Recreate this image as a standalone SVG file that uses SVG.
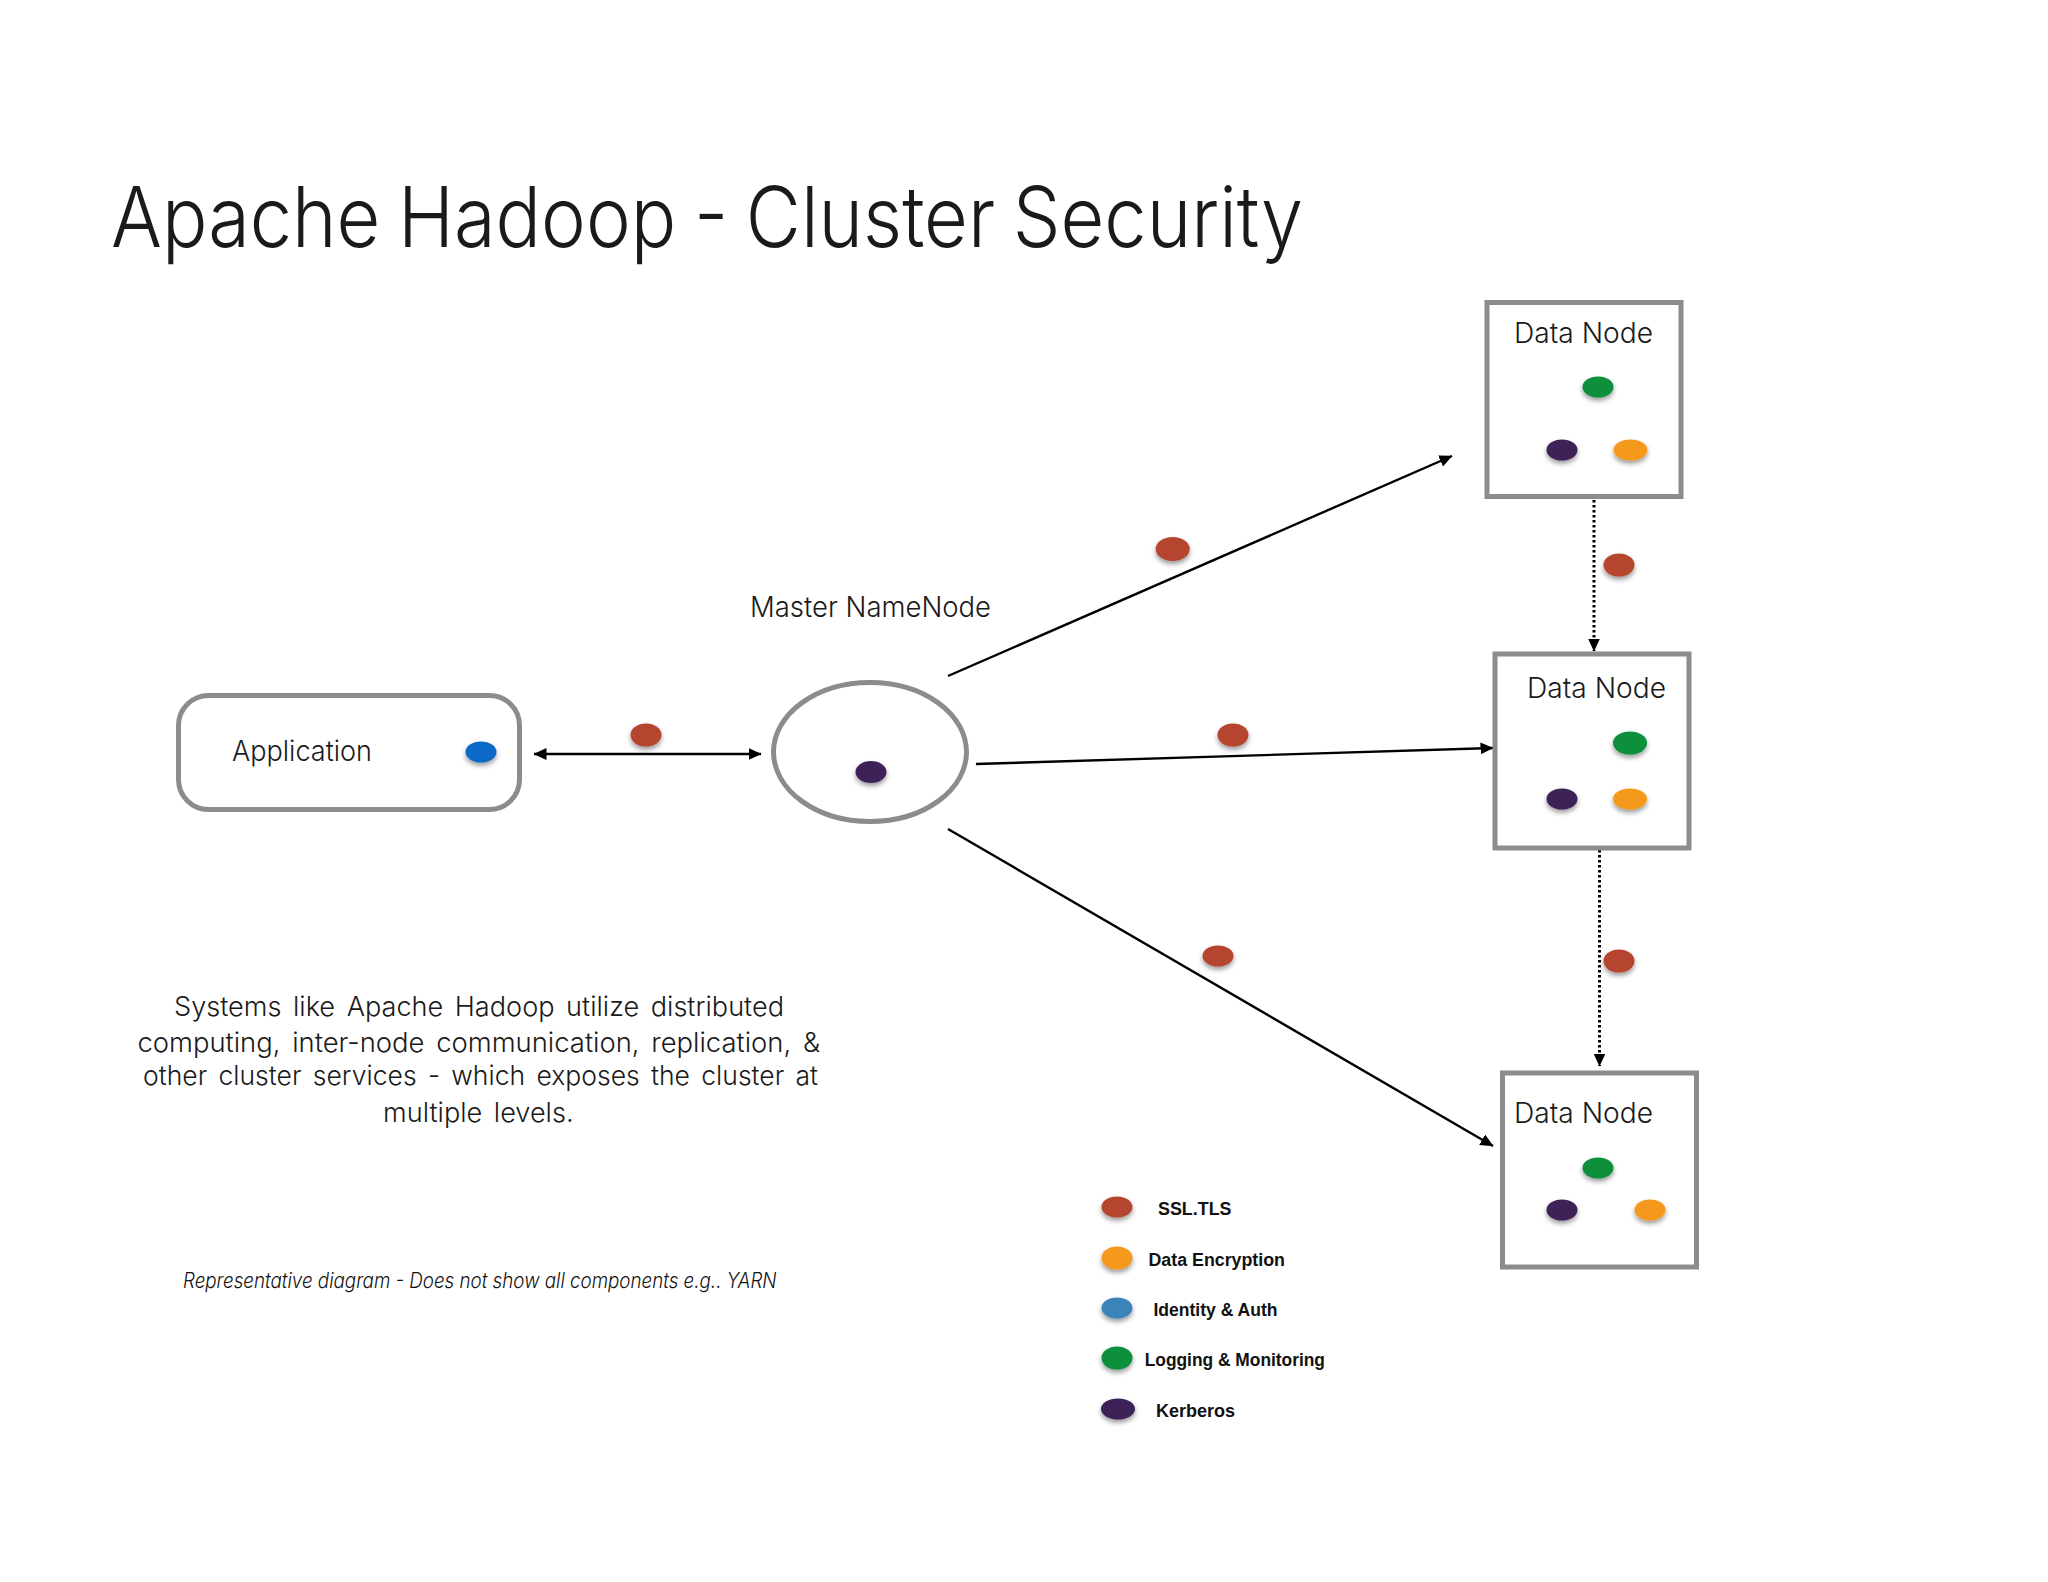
<svg xmlns="http://www.w3.org/2000/svg" width="2048" height="1582" viewBox="0 0 2048 1582">
<style>
.t{font-family:"Inter","Liberation Sans",sans-serif;font-weight:300;fill:#1a1a1a}
.lb{font-size:28px}
.leg{font-family:"Liberation Sans",Arial,sans-serif;font-weight:700;font-size:18px;fill:#111}
.box{fill:#fff;stroke:#8c8c8c;stroke-width:5}
.ln{stroke:#000;stroke-width:2.4;fill:none}
.dot{stroke-dasharray:2.5 2.5;stroke-width:3}
.r{fill:#b5452f}.o{fill:#f5991f}.b{fill:#3a84ba}.g{fill:#078f3a}.p{fill:#3d2158}.a{fill:#0a69c8}
</style>
<defs>
<filter id="sh" x="-50%" y="-50%" width="200%" height="220%"><feDropShadow dx="0" dy="3" stdDeviation="2.5" flood-color="#000" flood-opacity=".4"/></filter>
<marker id="ah" viewBox="0 0 13 12" refX="12.500" refY="6" markerWidth="13" markerHeight="12" markerUnits="userSpaceOnUse" orient="auto-start-reverse"><path d="M0 0L13 6L0 12Z" fill="#000"/></marker>
</defs>
<rect width="2048" height="1582" fill="#fff"/>
<text id="title" class="t" x="111" y="247" font-size="84" word-spacing="-4" textLength="1192" lengthAdjust="spacingAndGlyphs">Apache Hadoop - Cluster Security</text>
<g id="connectors">
<path class="ln" d="M948 676L1452 456" marker-end="url(#ah)"/>
<path class="ln" d="M534 754H761" marker-start="url(#ah)" marker-end="url(#ah)"/>
<path class="ln" d="M976 764L1493 748" marker-end="url(#ah)"/>
<path class="ln" d="M948 829L1493 1146" marker-end="url(#ah)"/>
<path class="ln dot" d="M1594 500V651" marker-end="url(#ah)"/>
<path class="ln dot" d="M1599.500 850V1066" marker-end="url(#ah)"/>
</g>
<g id="application">
<rect class="box" x="178.500" y="695.500" width="341" height="114" rx="30"/>
<text class="t lb" x="232" y="761" textLength="140" lengthAdjust="spacingAndGlyphs">Application</text>
<ellipse class="a" cx="481" cy="752" rx="15.500" ry="10.500" filter="url(#sh)"/>
</g>
<g id="master-namenode">
<ellipse class="box" cx="870" cy="752" rx="96.500" ry="69.500"/>
<text class="t lb" x="750" y="617" textLength="241" lengthAdjust="spacingAndGlyphs">Master NameNode</text>
<ellipse class="p" cx="871" cy="772" rx="15.500" ry="11" filter="url(#sh)"/>
</g>
<g id="data-node-1">
<rect class="box" x="1487" y="302.500" width="194" height="194"/>
<text class="t lb" x="1514" y="343" textLength="139" lengthAdjust="spacingAndGlyphs">Data Node</text>
<ellipse class="g" cx="1598" cy="387" rx="15.500" ry="10.500" filter="url(#sh)"/>
<ellipse class="p" cx="1562" cy="450" rx="15.500" ry="10.500" filter="url(#sh)"/>
<ellipse class="o" cx="1630.500" cy="450" rx="17" ry="10.500" filter="url(#sh)"/>
</g>
<g id="data-node-2">
<rect class="box" x="1495" y="654" width="194" height="194"/>
<text class="t lb" x="1527" y="697.500" textLength="139" lengthAdjust="spacingAndGlyphs">Data Node</text>
<ellipse class="g" cx="1630" cy="743" rx="17" ry="11.500" filter="url(#sh)"/>
<ellipse class="p" cx="1562" cy="799" rx="15.500" ry="10.500" filter="url(#sh)"/>
<ellipse class="o" cx="1630" cy="799" rx="17" ry="10.500" filter="url(#sh)"/>
</g>
<g id="data-node-3">
<rect class="box" x="1502.500" y="1073" width="194" height="194"/>
<text class="t lb" x="1514" y="1123" textLength="139" lengthAdjust="spacingAndGlyphs">Data Node</text>
<ellipse class="g" cx="1598" cy="1168" rx="15.500" ry="10.500" filter="url(#sh)"/>
<ellipse class="p" cx="1562" cy="1210" rx="15.500" ry="10.500" filter="url(#sh)"/>
<ellipse class="o" cx="1650" cy="1210" rx="15.500" ry="10.500" filter="url(#sh)"/>
</g>
<g id="channel-badges">
<ellipse class="r" cx="646" cy="735" rx="15.500" ry="11.500" filter="url(#sh)"/>
<ellipse class="r" cx="1172.700" cy="549" rx="17" ry="12" filter="url(#sh)"/>
<ellipse class="r" cx="1233" cy="735" rx="15.500" ry="11.500" filter="url(#sh)"/>
<ellipse class="r" cx="1218" cy="956" rx="15.500" ry="10.500" filter="url(#sh)"/>
<ellipse class="r" cx="1619" cy="565" rx="15.500" ry="11.500" filter="url(#sh)"/>
<ellipse class="r" cx="1619" cy="961" rx="15.500" ry="11.500" filter="url(#sh)"/>
</g>
<g id="description" class="t" font-size="27.500" word-spacing="4">
<text x="174" y="1015.700" textLength="610" lengthAdjust="spacingAndGlyphs">Systems like Apache Hadoop utilize distributed</text>
<text x="137.400" y="1051.700" textLength="682.600" lengthAdjust="spacingAndGlyphs">computing, inter-node communication,  replication,  &amp;</text>
<text x="143" y="1085.300" textLength="675" lengthAdjust="spacingAndGlyphs">other cluster services - which exposes the cluster at</text>
<text x="383" y="1121.700" textLength="190.600" lengthAdjust="spacingAndGlyphs">multiple  levels.</text>
</g>
<text id="note" x="183" y="1288" font-family="Inter,'Liberation Sans',sans-serif" font-style="italic" font-weight="300" font-size="21" fill="#111" textLength="593.600" lengthAdjust="spacingAndGlyphs">Representative diagram - Does not show all components e.g.. YARN</text>
<g id="legend">
<ellipse class="r" cx="1117" cy="1207" rx="15.500" ry="10.500" filter="url(#sh)"/>
<text class="leg" x="1158" y="1215" textLength="73.500" lengthAdjust="spacingAndGlyphs">SSL.TLS</text>
<ellipse class="o" cx="1117" cy="1258" rx="15.500" ry="11.500" filter="url(#sh)"/>
<text class="leg" x="1148.500" y="1266" textLength="136.500" lengthAdjust="spacingAndGlyphs">Data Encryption</text>
<ellipse class="b" cx="1117" cy="1308" rx="15.500" ry="10.500" filter="url(#sh)"/>
<text class="leg" x="1153.500" y="1316" textLength="124" lengthAdjust="spacingAndGlyphs">Identity &amp; Auth</text>
<ellipse class="g" cx="1117" cy="1358" rx="15.500" ry="11.500" filter="url(#sh)"/>
<text class="leg" x="1144.700" y="1366" textLength="180.300" lengthAdjust="spacingAndGlyphs">Logging &amp; Monitoring</text>
<ellipse class="p" cx="1118" cy="1409" rx="17" ry="10.500" filter="url(#sh)"/>
<text class="leg" x="1156" y="1417" textLength="79" lengthAdjust="spacingAndGlyphs">Kerberos</text>
</g>
</svg>
